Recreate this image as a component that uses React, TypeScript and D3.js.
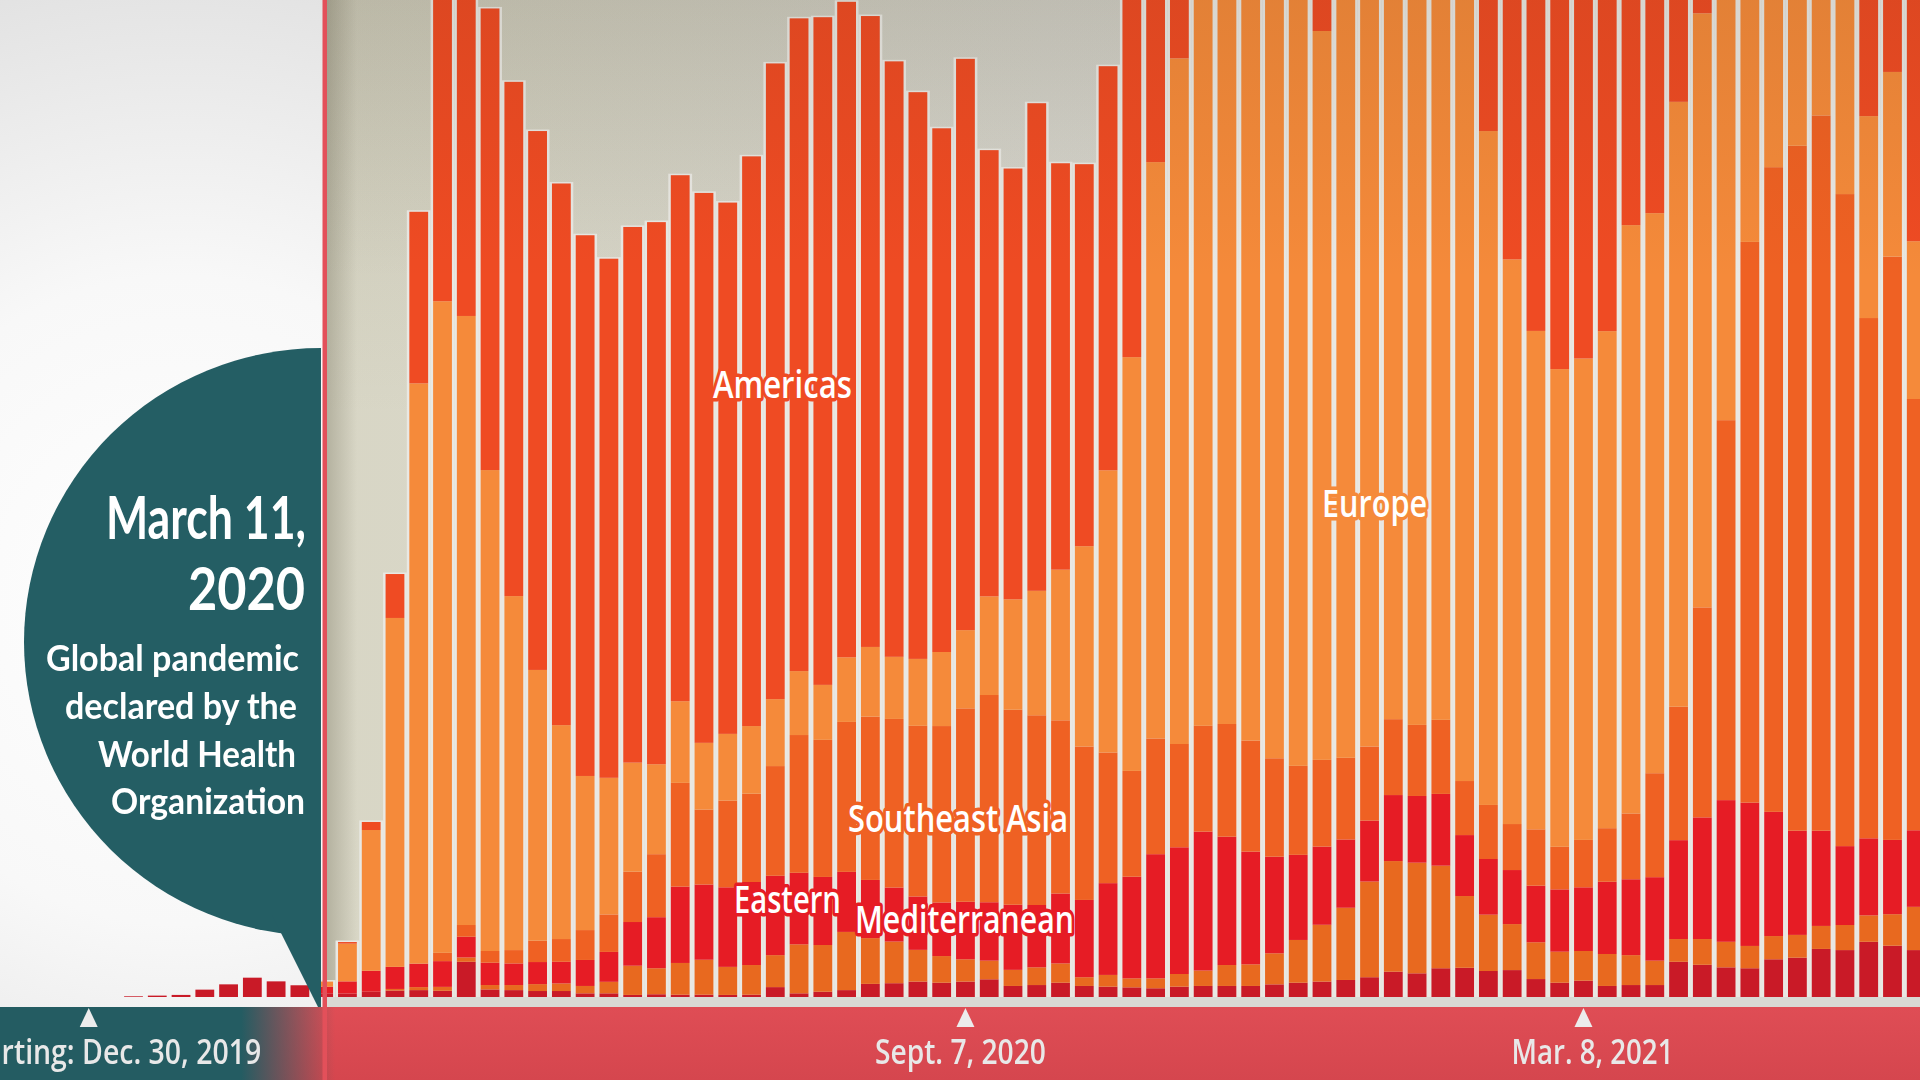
import React from 'react';
import * as d3 from 'd3';

// Weekly COVID-19 deaths by WHO region (thousands), weeks starting Monday Jan 6, 2020
const weeks: Date[] = d3.utcMonday.range(new Date(Date.UTC(2020, 0, 6)), new Date(Date.UTC(2021, 5, 15)));

const westernPacific = [
  0.03, 0.06, 0.09, 0.32, 0.55, 0.84, 0.68, 0.51, 0.16, 0.15,
  0.23, 0.28, 0.30, 0.27, 1.53, 0.33, 0.30, 0.26, 0.26, 0.16,
  0.16, 0.09, 0.12, 0.10, 0.10, 0.09, 0.10, 0.43, 0.16, 0.23,
  0.30, 0.57, 0.60, 0.67, 0.62, 0.67, 0.77, 0.48, 0.52, 0.62,
  0.48, 0.45, 0.42, 0.38, 0.45, 0.48, 0.48, 0.48, 0.55, 0.62,
  0.67, 0.74, 0.86, 1.10, 1.03, 1.25, 1.27, 1.13, 1.17, 0.78,
  0.62, 0.71, 0.48, 0.52, 0.52, 1.53, 1.40, 1.29, 1.25, 1.64,
  1.71, 2.09, 2.04, 2.40, 2.23, 2.04,
];
const africa = [
  0, 0, 0, 0, 0, 0, 0, 0, 0, 0,
  0, 0.07, 0.13, 0.17, 0.19, 0.19, 0.22, 0.30, 0.33, 0.32,
  0.50, 1.27, 1.13, 1.38, 1.52, 1.22, 1.29, 1.39, 2.13, 2.03,
  2.53, 1.99, 1.81, 1.38, 1.16, 0.97, 0.81, 0.70, 0.77, 0.84,
  0.38, 0.51, 0.39, 0.43, 0.55, 0.67, 0.91, 0.94, 1.35, 1.86,
  2.47, 3.14, 4.16, 4.81, 4.81, 4.46, 3.12, 2.45, 2.00, 1.60,
  1.35, 1.29, 1.39, 1.30, 1.06, 0.99, 1.12, 1.11, 0.97, 1.01,
  0.99, 1.00, 1.09, 1.15, 1.37, 1.88,
];
const easternMediterranean = [
  0, 0, 0, 0, 0, 0, 0, 0, 0.29, 0.53,
  0.91, 0.96, 1.02, 1.12, 0.90, 0.97, 0.94, 0.96, 0.94, 1.13,
  1.30, 1.90, 2.22, 3.32, 3.27, 3.46, 3.61, 3.45, 3.11, 2.96,
  2.61, 2.53, 2.35, 2.32, 2.33, 2.50, 2.54, 2.83, 2.71, 3.04,
  3.36, 3.99, 4.42, 5.40, 5.51, 6.04, 5.58, 4.90, 4.20, 3.70,
  3.40, 2.97, 2.65, 2.87, 2.90, 3.12, 2.65, 2.42, 2.35, 2.46,
  2.71, 2.77, 3.14, 3.30, 3.63, 4.30, 5.29, 6.16, 6.23, 5.40,
  4.53, 4.14, 3.43, 3.35, 3.23, 3.33,
];
const southeastAsia = [
  0, 0, 0, 0, 0, 0, 0, 0, 0, 0,
  0, 0, 0, 0.36, 0.51, 0.51, 0.58, 0.93, 0.99, 1.30,
  1.63, 2.19, 2.74, 4.51, 3.26, 3.77, 3.84, 4.77, 5.99, 5.96,
  6.52, 7.10, 7.33, 7.42, 7.67, 8.41, 9.01, 8.48, 8.25, 7.53,
  6.67, 5.68, 4.60, 5.03, 4.49, 4.60, 4.90, 4.83, 4.28, 3.87,
  3.77, 3.55, 3.22, 3.30, 3.09, 3.22, 2.35, 2.35, 2.00, 2.45,
  1.85, 2.06, 2.33, 2.86, 4.52, 5.80, 9.13, 16.52, 24.38, 28.03,
  29.78, 31.10, 28.35, 22.62, 25.36, 18.75,
];
const europe = [
  0, 0, 0, 0, 0, 0, 0, 0, 0.22, 1.64,
  6.12, 15.17, 25.23, 28.33, 26.48, 20.91, 15.39, 11.77, 9.30, 6.70,
  5.94, 4.74, 3.91, 3.55, 2.90, 2.90, 2.94, 2.91, 2.78, 2.39,
  2.81, 3.03, 2.70, 2.91, 3.22, 3.40, 4.29, 4.80, 5.41, 6.55,
  8.71, 12.27, 17.99, 25.06, 29.81, 34.35, 34.78, 35.65, 36.09, 34.78,
  31.69, 34.35, 35.65, 36.52, 36.96, 35.65, 34.35, 29.30, 24.55, 21.67,
  20.77, 20.93, 21.61, 25.58, 24.35, 26.30, 25.83, 22.61, 18.26, 14.35,
  12.17, 10.43, 9.57, 8.78, 8.03, 6.86,
];
const americas = [
  0, 0, 0, 0, 0, 0, 0, 0, 0, 0.07,
  0.35, 1.91, 7.46, 13.70, 15.65, 20.07, 22.36, 23.43, 23.55, 23.51,
  22.57, 23.29, 23.57, 22.87, 23.91, 23.10, 24.77, 27.64, 28.38, 29.03,
  28.50, 27.43, 25.89, 24.64, 22.77, 24.84, 19.40, 18.73, 21.20, 17.67,
  16.61, 17.57, 18.26, 19.57, 20.87, 21.74, 22.61, 24.35, 26.96, 30.43,
  32.61, 33.91, 36.96, 39.13, 41.30, 41.30, 39.13, 36.96, 32.61, 30.43,
  28.26, 28.26, 28.26, 30.43, 30.43, 31.30, 30.43, 30.43, 30.43, 29.50,
  30.20, 29.10, 27.80, 26.90, 25.80, 24.60,
];

const regionKeys = ['Western Pacific', 'Africa', 'Eastern Mediterranean', 'Southeast Asia', 'Europe', 'Americas'];
const regionSeries = [westernPacific, africa, easternMediterranean, southeastAsia, europe, americas];
const regionColors = ['#c91a27', '#e8691f', '#e61c25', '#ef6123', '#f58a3a', '#ef4b23'];

const tickDates = [new Date(Date.UTC(2019, 11, 30)), new Date(Date.UTC(2020, 8, 7)), new Date(Date.UTC(2021, 2, 8))];
const tickLabels = ['Starting: Dec. 30, 2019', 'Sept. 7, 2020', 'Mar. 8, 2021'];

// region labels: text, region index, position in week index / value (thousands)
const labelTexts = ['Americas', 'Europe', 'Southeast Asia', 'Eastern', 'Mediterranean'];
const labelRegion = [5, 4, 3, 2, 2];
const labelWeek = [27.3, 52.21, 34.69, 27.51, 34.96];
const labelValue = [26.04, 20.87, 7.17, 3.65, 2.78];

const bubbleLines = ['March 11,', '2020', 'Global pandemic', 'declared by the', 'World Health', 'Organization'];

export default function App() {
  const W = 1920, H = 1080;
  const baseline = 997;
  const plotLeft = 327;
  const bandTop = 1007;

  const x = d3.scaleUtc().domain([weeks[0], weeks[weeks.length - 1]]).range([133.5, 133.5 + 23.77 * (weeks.length - 1)]);
  const y = d3.scaleLinear().domain([0, 40]).range([baseline, baseline - 920]);
  const bw = 18.8;

  const table = weeks.map((d, i) => {
    const row: any = { date: d };
    regionKeys.forEach((k, j) => { row[k] = regionSeries[j][i]; });
    return row;
  });
  const stacked = d3.stack().keys(regionKeys)(table as any);
  const totals = table.map((r) => regionKeys.reduce((s, k) => s + r[k], 0));

  const weekX = (w: number) => x(new Date(weeks[0].getTime() + w * 7 * 864e5));

  const labelWidths = [139, 105, 220, 107, 219];
  const bubbleLayout = [
    { x: 306, y: 539, size: 60, w: 200 },
    { x: 305, y: 610, size: 60, w: 117 },
    { x: 299, y: 671, size: 37, w: 253 },
    { x: 297, y: 719, size: 37, w: 232 },
    { x: 296, y: 767, size: 37, w: 198 },
    { x: 305, y: 814, size: 37, w: 194 },
  ];
  const tickWidths = [303, 171, 162];
  const markShift = [-21, 0, 0];
  const textShift = [0, -5, 9];

  return (
    <svg width={W} height={H} style={{ position: 'fixed', left: 0, top: 0, display: 'block' }}>
      <defs>
        <radialGradient id="leftBg" cx="180" cy="600" r="720" gradientUnits="userSpaceOnUse">
          <stop offset="0" stopColor="#ffffff" />
          <stop offset="0.45" stopColor="#f8f8f8" />
          <stop offset="1" stopColor="#dcdcdc" />
        </radialGradient>
        <linearGradient id="plotBgH" x1="0" x2="1" y1="0" y2="0">
          <stop offset="0" stopColor="#d8d6c5" />
          <stop offset="0.45" stopColor="#dcdbd3" />
          <stop offset="1" stopColor="#e0e0dc" />
        </linearGradient>
        <linearGradient id="bgTopDark" x1="0" x2="0" y1="0" y2="1">
          <stop offset="0" stopColor="#3a3218" stopOpacity="0.09" />
          <stop offset="1" stopColor="#3a3218" stopOpacity="0" />
        </linearGradient>
        <linearGradient id="topDark" x1="0" x2="0" y1="0" y2="1">
          <stop offset="0" stopColor="#2a2210" stopOpacity="0.09" />
          <stop offset="1" stopColor="#2a2210" stopOpacity="0" />
        </linearGradient>
        <linearGradient id="leftShadow" x1="0" x2="1" y1="0" y2="0">
          <stop offset="0" stopColor="#5a5540" stopOpacity="0.28" />
          <stop offset="1" stopColor="#5a5540" stopOpacity="0" />
        </linearGradient>
        <linearGradient id="bandTeal" x1="0" x2="1" y1="0" y2="0">
          <stop offset="0" stopColor="#245c62" stopOpacity="1" />
          <stop offset="0.72" stopColor="#245c62" stopOpacity="1" />
          <stop offset="1" stopColor="#245c62" stopOpacity="0" />
        </linearGradient>
        <linearGradient id="bandRed" x1="0" x2="0" y1="0" y2="1">
          <stop offset="0" stopColor="#df4d55" />
          <stop offset="1" stopColor="#d5464e" />
        </linearGradient>
        <clipPath id="plotClip">
          <rect x={0} y={0} width={W} height={baseline} />
        </clipPath>
        <clipPath id="bubbleClip">
          <rect x={0} y={0} width={321} height={H} />
        </clipPath>
      </defs>

      {/* backgrounds */}
      <rect x={0} y={0} width={plotLeft} height={bandTop} fill="url(#leftBg)" />
      <rect x={plotLeft} y={0} width={W - plotLeft} height={baseline} fill="url(#plotBgH)" />
      <rect x={plotLeft} y={0} width={W - plotLeft} height={420} fill="url(#bgTopDark)" />
      <rect x={plotLeft} y={0} width={30} height={baseline} fill="url(#leftShadow)" />
      <rect x={plotLeft} y={baseline} width={W - plotLeft} height={bandTop - baseline} fill="#d9d9d4" />

      {/* bar halos */}
      <g clipPath="url(#plotClip)">
        {weeks.map((d, i) => (x(d) - bw / 2 > plotLeft - 14 ? (
          <rect key={'h' + i} x={x(d) - bw / 2 - 2.5} y={y(totals[i]) - 1.5} width={bw + 5}
            height={baseline - y(totals[i]) + 1.5} fill="#e9e8e3" />
        ) : null))}
      </g>

      {/* stacked bars */}
      <g clipPath="url(#plotClip)">
        {stacked.map((layer, j) => (
          <g key={layer.key} fill={regionColors[j]}>
            {layer.map((s, i) => {
              const h = y(s[0]) - y(s[1]);
              if (h <= 0) return null;
              return <rect key={i} x={x(weeks[i]) - bw / 2} y={y(s[1])} width={bw} height={h} />;
            })}
          </g>
        ))}
      </g>
      <rect x={plotLeft} y={0} width={W - plotLeft} height={280} fill="url(#topDark)" />

      {/* region labels */}
      {labelTexts.map((t, k) => (
        <text key={t} x={weekX(labelWeek[k])} y={y(labelValue[k])} textAnchor="middle"
          fontFamily="'Open Sans', Lato, sans-serif" fontWeight={600} fontSize={37}
          textLength={labelWidths[k]} lengthAdjust="spacingAndGlyphs"
          fill="#ffffff" stroke={regionColors[labelRegion[k]]} strokeWidth={7}
          strokeLinejoin="round" paintOrder="stroke">{t}</text>
      ))}

      {/* bubble */}
      <g fill="#245e64">
        <ellipse cx={321} cy={642} rx={297} ry={294} clipPath="url(#bubbleClip)" />
        <polygon points="272,915 321,915 321,1007 318,1007" />
      </g>
      {bubbleLines.map((t, k) => (
        <text key={t} x={bubbleLayout[k].x} y={bubbleLayout[k].y} textAnchor="end"
          fontFamily="Lato, 'Open Sans', sans-serif" fontWeight={700} fontSize={bubbleLayout[k].size}
          textLength={bubbleLayout[k].w} lengthAdjust="spacingAndGlyphs" fill="#ffffff">{t}</text>
      ))}

      {/* bottom band */}
      <rect x={0} y={bandTop} width={W} height={H - bandTop} fill="url(#bandRed)" />
      <rect x={0} y={bandTop} width={335} height={H - bandTop} fill="url(#bandTeal)" />

      {/* red divider line */}
      <rect x={322.5} y={0} width={4.5} height={H} fill="#e3505a" />

      {/* ticks */}
      {tickDates.map((d, k) => {
        const tx = x(d);
        const mx = tx + markShift[k];
        return (
          <g key={k}>
            <path d={`M${mx - 9},1027 L${mx},1008 L${mx + 9},1027 Z`} fill="#ececec" />
            <text x={tx + textShift[k]} y={1064} textAnchor="middle" fontFamily="'Open Sans', Lato, sans-serif"
              fontWeight={600} fontSize={35} textLength={tickWidths[k]} lengthAdjust="spacingAndGlyphs"
              fill="#e8e8e8">{tickLabels[k]}</text>
          </g>
        );
      })}
    </svg>
  );
}
